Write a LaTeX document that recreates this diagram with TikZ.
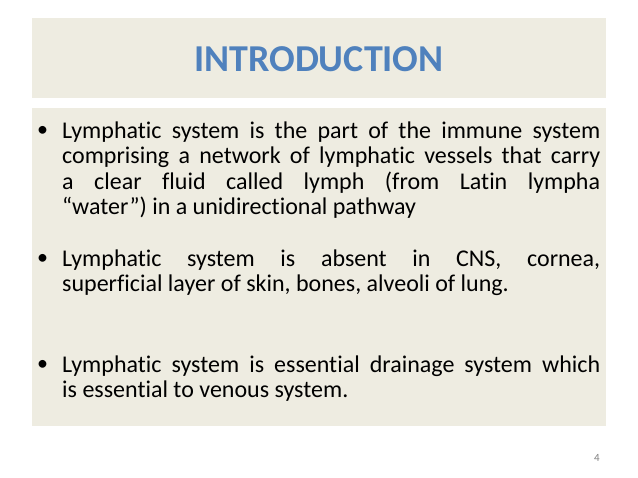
\documentclass[tikz,border=0pt]{standalone}
\usepackage{fontspec}
\setmainfont[Ligatures={NoCommon}]{Carlito}
\definecolor{boxbg}{HTML}{EEECE1}
\definecolor{titleblue}{HTML}{4F81BD}
\tikzset{panel/.style={fill=boxbg,draw=none},
 para/.style={anchor=north west,text width=538pt,align=justify,inner sep=0pt,font=\fontsize{24}{25.5}\selectfont},
 bul/.style={anchor=base west,inner sep=0pt,font=\fontsize{22}{25.5}\selectfont}}
\begin{document}
\begin{tikzpicture}[x=1pt,y=-1pt]
\useasboundingbox (0,0) rectangle (638,478);
\fill[white] (0,0) rectangle (638,478);
\fill[panel] (32,18) rectangle (606,98);
\fill[panel] (32,108) rectangle (606,426);
\node[font=\fontsize{38}{40}\selectfont\bfseries,text=titleblue,anchor=base] (title) at (319,72) {INTRODUCTION};
\node[bul] (b1) at (37,137) {•};
\node[para] (p1) at (62,121) {\hyphenpenalty=10000\relax\rule{0pt}{17pt}Lymphatic system is the part of the immune system\linebreak comprising a network of lymphatic vessels that carry\linebreak a clear fluid called lymph (from Latin lympha\linebreak “water”) in a unidirectional pathway};
\node[bul] (b2) at (37,265) {•};
\node[para] (p2) at (62,249) {\hyphenpenalty=10000\relax\rule{0pt}{17pt}Lymphatic system is absent in CNS, cornea,\linebreak superficial layer of skin, bones, alveoli of lung.};
\node[bul] (b3) at (37,371) {•};
\node[para] (p3) at (62,355) {\hyphenpenalty=10000\relax\rule{0pt}{17pt}Lymphatic system is essential drainage system which\linebreak is essential to venous system.};
\node[font=\fontsize{11}{13}\selectfont,text=gray,anchor=base] (pg) at (597,462) {4};
\end{tikzpicture}
\end{document}
